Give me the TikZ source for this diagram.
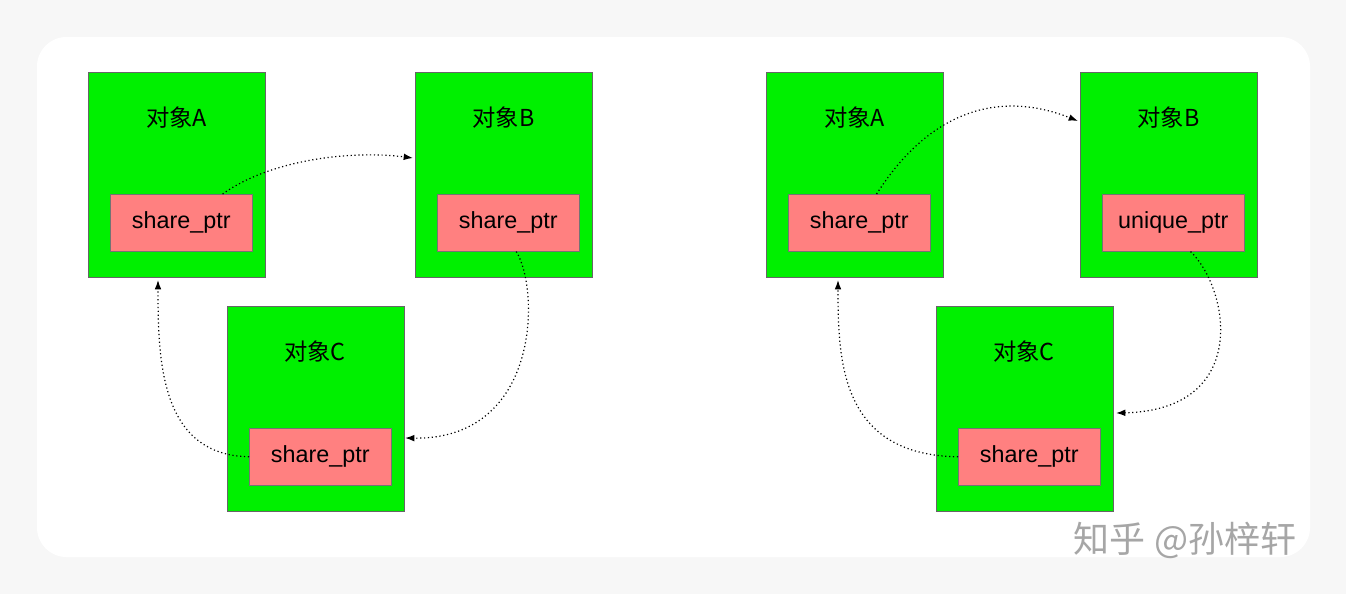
\documentclass[tikz,border=0pt]{standalone}
\usepackage{fontspec}
\setmainfont{Liberation Sans}
\newfontfamily\cjk{Noto Sans CJK SC}
\usetikzlibrary{arrows.meta}
\begin{document}
\begin{tikzpicture}[x=0.75pt,y=-0.75pt,
  obj/.style={draw=black!60,fill={rgb,255:red,0;green,240;blue,0},minimum width=132.75pt,minimum height=153.75pt,inner sep=0pt,anchor=north west},
  ptr/.style={draw=black!55,fill={rgb,255:red,255;green,128;blue,128},minimum width=106.5pt,minimum height=42.75pt,inner sep=0pt,anchor=north west,font=\fontsize{17.5}{20}\selectfont},
  lbl/.style={font=\cjk\fontsize{17.5}{20}\selectfont},
  link/.style={dotted,line width=0.9pt,-{Latex[length=7pt,width=5pt]}}]
\fill[black!3] (0,0) rectangle (1346,594);
\fill[white,rounded corners=22pt] (37,37) rectangle (1310,557);
% left
\node[obj] (la) at (88,72) {};
\node[lbl] (lat) at (176.5,118) {对象A};
\node[ptr] (lpa) at (110,194) {share\_ptr};
\node[obj] (lb) at (415,72) {};
\node[lbl] (lbt) at (503.5,118) {对象B};
\node[ptr] (lpb) at (437,194) {share\_ptr};
\node[obj] (lc) at (227,306) {};
\node[lbl] (lct) at (315,352) {对象C};
\node[ptr] (lpc) at (249,428) {share\_ptr};
\coordinate (lbin) at (413,158);
\coordinate (lcin) at (405,438);
\coordinate (lain) at (158,280);
\draw[link] ([xshift=31pt]lpa.north) .. controls (270,160) and (350,150) .. (lbin);
\draw[link] ([xshift=6pt]lpb.south) .. controls (540,290) and (540,440) .. (lcin);
\draw[link] (lpc.west) .. controls (160,455) and (158,360) .. (lain);
% right
\node[obj] (ra) at (766,72) {};
\node[lbl] (rat) at (854.5,118) {对象A};
\node[ptr] (rpa) at (788,194) {share\_ptr};
\node[obj] (rb) at (1080,72) {};
\node[lbl] (rbt) at (1168.5,118) {对象B};
\node[ptr] (rpb) at (1102,194) {unique\_ptr};
\node[obj] (rc) at (936,306) {};
\node[lbl] (rct) at (1024,352) {对象C};
\node[ptr] (rpc) at (958,428) {share\_ptr};
\coordinate (rbin) at (1078,121);
\coordinate (rcin) at (1116,413);
\coordinate (rain) at (838,280);
\draw[link] ([xshift=13pt]rpa.north) .. controls (930,110) and (1000,90) .. (rbin);
\draw[link] ([xshift=13pt]rpb.south) .. controls (1230,290) and (1250,410) .. (rcin);
\draw[link] (rpc.west) .. controls (840,455) and (838,360) .. (rain);
\node[font=\cjk\fontsize{27}{30}\selectfont,text=black!35] (wm) at (1185,540) {知乎 @孙梓轩};
\end{tikzpicture}
\end{document}
